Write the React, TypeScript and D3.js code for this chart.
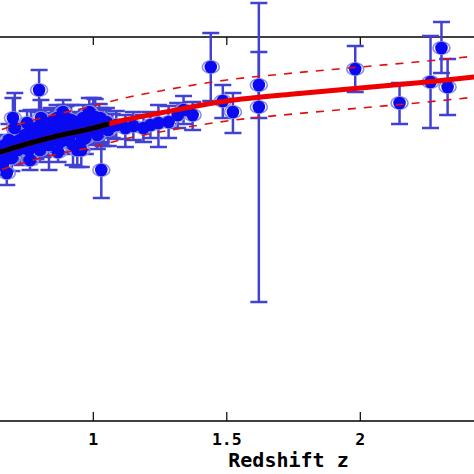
import * as d3 from 'd3';

// Redshift of each data point
const zData = [
  0.658, 0.665, 0.676, 0.684, 0.695, 0.699, 0.706, 0.718, 0.725, 0.733, 0.744, 0.752, 0.759, 0.767,
  0.774, 0.785, 0.793, 0.797, 0.804, 0.812, 0.819, 0.827, 0.834, 0.842, 0.849, 0.857, 0.864, 0.872,
  0.879, 0.887, 0.894, 0.902, 0.909, 0.917, 0.924, 0.932, 0.94, 0.947, 0.955, 0.962, 0.97, 0.977,
  0.985, 0.992, 1.0, 1.007, 1.015, 1.022, 1.03, 1.037, 1.049, 1.056, 1.071, 1.086,
  0.669, 0.688, 0.71, 0.74, 0.778, 0.8, 0.83, 0.853, 0.876, 0.898, 0.913, 0.936, 0.958, 0.974,
  0.996, 1.011, 1.026, 0.661, 0.763, 0.868,
  1.12, 1.15, 1.188, 1.214, 1.244, 1.282, 1.316, 1.338, 1.372, 1.44, 1.485, 1.523, 1.62, 1.62,
  1.981, 2.147, 2.263, 2.304, 2.327,
];
// Distance modulus of each data point
const muData = [
  42.05, 42.55, 41.4, 43.05, 42.15, 44.15, 43.65, 42.55, 43.05, 42.8, 43.3, 43.9, 42.55, 43.55,
  43.05, 42.8, 43.7, 45.55, 44.15, 43.3, 43.05, 43.55, 42.8, 43.95, 43.45, 43.05, 44.15, 43.65,
  43.3, 44.45, 43.8, 43.05, 43.55, 44.05, 42.8, 43.65, 42.55, 43.4, 42.55, 44.15, 43.15, 43.8,
  44.45, 43.55, 44.15, 44.2, 43.3, 43.85, 41.55, 43.65, 43.95, 43.55, 43.75, 43.8,
  42.8, 42.45, 42.95, 42.65, 43.45, 42.55, 43.8, 44.05, 42.95, 44.15, 43.3, 43.95, 43.05, 44.05,
  43.8, 43.65, 44.15, 41.8, 42.05, 42.45,
  43.65, 43.75, 43.65, 43.8, 43.9, 43.95, 44.3, 44.55, 44.3, 46.7, 45.0, 44.45, 45.8, 44.7,
  46.6, 44.9, 45.95, 47.65, 45.7,
];
const errUp = [
  0.75, 0.7, 0.6, 0.8, 0.65, 1.0, 1.75, 0.6, 0.7, 1.0, 0.6, 0.6, 0.7, 1.0,
  0.6, 0.7, 0.75, 1.0, 0.9, 1.1, 0.75, 0.6, 1.25, 0.7, 0.75, 0.6, 0.65, 0.8,
  0.6, 0.6, 1.0, 0.7, 0.55, 0.75, 1.0, 0.7, 0.85, 0.6, 0.85, 0.65, 0.8, 0.6,
  0.7, 0.75, 1.0, 0.9, 0.7, 1.0, 1.4, 0.9, 0.7, 0.8, 0.6, 0.7,
  0.5, 0.5, 0.5, 0.6, 0.5, 0.6, 0.5, 0.5, 0.5, 0.6, 0.5, 0.5, 0.5, 0.5,
  0.5, 0.6, 0.5, 0.5, 0.5, 0.5,
  0.65, 0.7, 0.65, 0.65, 0.9, 0.8, 0.6, 0.7, 0.65, 1.7, 0.8, 0.95, 1.65, 5.2,
  1.15, 1.0, 2.3, 1.3, 1.4,
];
const errDown = [
  0.75, 0.7, 0.6, 0.8, 0.65, 1.0, 1.75, 0.6, 0.7, 1.0, 0.6, 0.6, 0.7, 1.0,
  0.6, 0.7, 0.75, 1.0, 0.9, 1.1, 0.75, 0.6, 1.25, 0.7, 0.75, 0.6, 0.65, 0.8,
  0.6, 0.6, 1.0, 0.7, 0.55, 0.75, 1.0, 0.7, 0.85, 0.6, 0.85, 0.65, 0.8, 0.6,
  0.7, 0.75, 1.0, 0.9, 0.7, 1.0, 1.4, 0.9, 0.7, 0.8, 0.6, 0.7,
  0.5, 0.5, 0.5, 0.6, 0.5, 0.6, 0.5, 0.5, 0.5, 0.6, 0.5, 0.5, 0.5, 0.5,
  0.5, 0.6, 0.5, 0.5, 0.5, 0.5,
  0.95, 0.7, 0.7, 0.65, 1.2, 0.8, 0.65, 0.7, 0.75, 1.7, 0.85, 1.05, 1.65, 9.75,
  1.15, 1.05, 2.3, 1.25, 1.4,
];

// best fit and its band
const fitZ = [0.6, 0.65, 0.75, 0.85, 1.0, 1.1, 1.25, 1.5, 1.75, 2.0, 2.25, 2.5];
const fitMu = [42.25, 42.45, 42.85, 43.2, 43.65, 44.0, 44.4, 45.0, 45.35, 45.65, 45.95, 46.3];
const fitUpper = [43.35, 43.55, 43.95, 44.3, 44.75, 45.1, 45.5, 46.05, 46.4, 46.7, 47.0, 47.35];
const fitLower = [41.35, 41.55, 41.95, 42.3, 42.7, 43.05, 43.45, 44.0, 44.35, 44.65, 44.95, 45.3];
const blackUntil = 1.06;

const xTicks = [1, 1.5, 2, 2.5];
const xTickLabels = ['1', '1.5', '2', ''];

export default function App() {
  const W = 474;
  const H = 474;
  const top = 37;
  const bottom = 421;

  const x = d3.scaleLinear().domain([1, 1.5]).range([93.3, 226.8]);
  const y = d3.scaleLinear().domain([29, 48.2]).range([bottom, top]);

  const pts = zData.map((z, i) => ({ z, mu: muData[i], up: errUp[i], dn: errDown[i] }));

  const line = (vals: number[]) =>
    d3
      .line<number>()
      .x((_, i) => x(fitZ[i]))
      .y((d) => y(d))
      .curve(d3.curveMonotoneX)(vals) || '';

  const cap = 8.5;
  const barColor = '#4141d4';

  return (
    <svg
      width={W}
      height={H}
      style={{ position: 'absolute', left: 0, top: 0, background: '#fff' }}
    >
      <defs>
        <clipPath id="blackPart">
          <rect x={-200} y={0} width={x(blackUntil) + 200} height={H} />
        </clipPath>
      </defs>

      {/* frame */}
      <line x1={0} x2={W} y1={top} y2={top} stroke="#000" strokeWidth={1.5} />
      <line x1={0} x2={W} y1={bottom} y2={bottom} stroke="#000" strokeWidth={1.5} />
      {xTicks.map((t, i) => (
        <g key={t} transform={`translate(${x(t)},0)`}>
          <line y1={top} y2={top + 8} stroke="#000" strokeWidth={1.2} />
          <line y1={bottom} y2={bottom - 9} stroke="#000" strokeWidth={1.2} />
          <text
            y={445}
            textAnchor="middle"
            fontFamily="DejaVu Sans Mono"
            fontWeight="bold"
            fontSize={16.5}
            fill="#000"
          >
            {xTickLabels[i]}
          </text>
        </g>
      ))}
      <text
        x={288.5}
        y={467}
        textAnchor="middle"
        fontFamily="DejaVu Sans Mono"
        fontWeight="bold"
        fontSize={20}
        fill="#000"
      >
        Redshift z
      </text>

      {/* error bars */}
      {pts.map((d, i) => {
        const cx = x(d.z);
        const y1 = y(d.mu + d.up);
        const y2 = y(d.mu - d.dn);
        return (
          <g key={'e' + i} stroke={barColor} strokeWidth={2.5}>
            <line x1={cx} x2={cx} y1={y1} y2={y2} />
            <line x1={cx - cap} x2={cx + cap} y1={y1} y2={y1} />
            <line x1={cx - cap} x2={cx + cap} y1={y2} y2={y2} />
          </g>
        );
      })}

      {/* marker rings, then filled markers */}
      {pts.map((d, i) => (
        <ellipse
          key={'r' + i}
          cx={x(d.z)}
          cy={y(d.mu)}
          rx={8.5}
          ry={6.2}
          fill="none"
          stroke="#8d8de0"
          strokeWidth={1.6}
        />
      ))}
      {pts.map((d, i) => (
        <circle key={'p' + i} cx={x(d.z)} cy={y(d.mu)} r={6.3} fill="#0a0af2" />
      ))}

      {/* fit */}
      <path d={line(fitUpper)} fill="none" stroke="#dd1010" strokeWidth={1.6} strokeDasharray="8 8" />
      <path d={line(fitLower)} fill="none" stroke="#dd1010" strokeWidth={1.6} strokeDasharray="8 8" />
      <path d={line(fitMu)} fill="none" stroke="#ee0000" strokeWidth={5} />
      <path d={line(fitMu)} fill="none" stroke="#000" strokeWidth={5} clipPath="url(#blackPart)" />
    </svg>
  );
}
